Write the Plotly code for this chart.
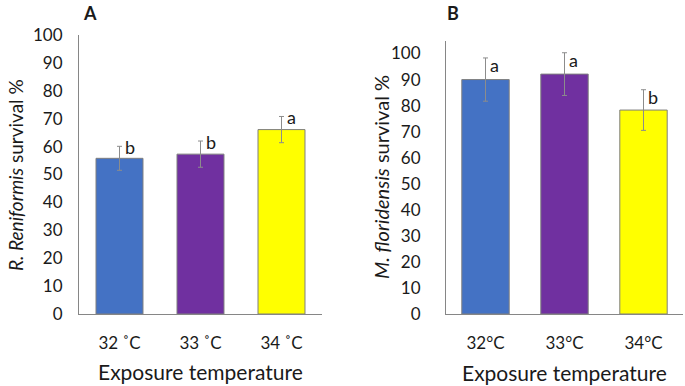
import plotly.graph_objects as go

# Panel A data
cats_a = ["32 ˚C", "33 ˚C", "34 ˚C"]
vals_a = [55.8, 57.3, 66.1]
err_a = [4.3, 4.7, 4.7]
letters_a = ["b", "b", "a"]

# Panel B data
cats_b = ["32°C", "33°C", "34°C"]
vals_b = [90.0, 92.1, 78.3]
err_b = [8.3, 8.2, 7.8]
letters_b = ["a", "a", "b"]

colors = ["#4472C4", "#7030A0", "#FFFF00"]
W, H = 685, 386
FONT = "Lato, Open Sans, sans-serif"
TXT = "#1a1a1a"
AXC = "#868686"

fig = go.Figure()

fig.add_trace(go.Bar(
    x=cats_a, y=vals_a, xaxis="x", yaxis="y", width=0.58,
    marker=dict(color=colors, line=dict(color="#7f7f7f", width=1)),
    error_y=dict(type="data", array=err_a, color="#8c8c8c", thickness=1, width=2.5),
    showlegend=False))
fig.add_trace(go.Bar(
    x=cats_b, y=vals_b, xaxis="x2", yaxis="y2", width=0.6,
    marker=dict(color=colors, line=dict(color="#7f7f7f", width=1)),
    error_y=dict(type="data", array=err_b, color="#8c8c8c", thickness=1, width=2.5),
    showlegend=False))

ann = []
for c, v, e, l in zip(cats_a, vals_a, err_a, letters_a):
    ann.append(dict(x=c, y=v + e, xref="x", yref="y", text=l, showarrow=False,
                    xanchor="center", yanchor="middle", xshift=10, yshift=-1,
                    font=dict(size=18, color=TXT, family=FONT)))
for c, v, e, l in zip(cats_b, vals_b, err_b, letters_b):
    ann.append(dict(x=c, y=v + e, xref="x2", yref="y2", text=l, showarrow=False,
                    xanchor="center", yanchor="middle", xshift=9, yshift=-7,
                    font=dict(size=18, color=TXT, family=FONT)))

def pann(px, py, text, size, angle=0):
    return dict(x=px / W, y=1 - py / H, xref="paper", yref="paper", text=text,
                showarrow=False, xanchor="center", yanchor="middle", textangle=angle,
                font=dict(size=size, color=TXT, family=FONT))

ann.append(pann(90, 13, "<b>A</b>", 18))
ann.append(pann(452.5, 13, "<b>B</b>", 18))
ann.append(pann(15, 175, "<i>R. Reniformis</i> survival %", 19, -90))
ann.append(pann(381, 177, "<i>M. floridensis</i> survival %", 20, -90))
ann.append(pann(200.5, 371, "Exposure temperature", 21))
ann.append(pann(564, 372, "Exposure temperature", 21))

axis_common = dict(showline=True, linecolor=AXC, linewidth=1, showgrid=False,
                   zeroline=False, ticks="", automargin=False,
                   tickfont=dict(size=17, color=TXT, family=FONT))

fig.update_layout(
    width=W, height=H, margin=dict(l=0, r=0, t=0, b=0, autoexpand=False),
    paper_bgcolor="white", plot_bgcolor="white",
    annotations=ann,
    xaxis=dict(domain=[79 / W, 322 / W], anchor="y", ticklabelstandoff=14, **axis_common),
    yaxis=dict(domain=[1 - 314 / H, 1 - 35 / H], anchor="x", range=[0, 100], dtick=10,
               ticklabelstandoff=12, **axis_common),
    xaxis2=dict(domain=[446 / W, 683 / W], anchor="y2", ticklabelstandoff=14, **axis_common),
    yaxis2=dict(domain=[1 - 314 / H, 1 - 40.5 / H], anchor="x2", range=[0, 105], dtick=10,
                ticklabelstandoff=21, **axis_common),
)

fig.write_html("out.html", config={"displayModeBar": False},
               post_script="document.body.style.margin='0';")
